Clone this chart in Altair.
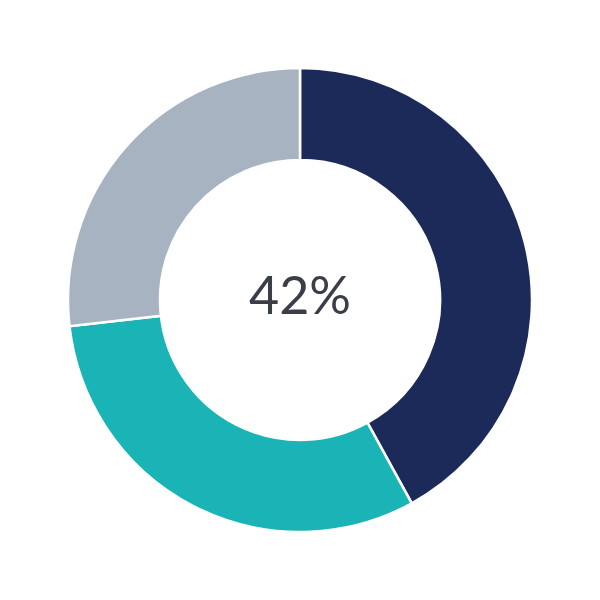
import altair as alt
import pandas as pd

categories = ["A", "B", "C"]
values = [42, 31.2, 26.8]
colors = ["#1c2a5a", "#1ab4b7", "#a8b3c2"]
center_label = "42%"

df = pd.DataFrame({"category": categories, "value": values, "order": [0, 1, 2]})

arc = alt.Chart(df).mark_arc(outerRadius=232, innerRadius=140, stroke="white", strokeWidth=2.5).encode(
    theta=alt.Theta("value:Q", stack=True),
    order=alt.Order("order:Q"),
    color=alt.Color("category:N", scale=alt.Scale(domain=categories, range=colors), legend=None),
)

text = alt.Chart(pd.DataFrame({"t": [center_label]})).mark_text(
    fontSize=52, font="Lato", fontWeight="normal", color="#3a3f47", baseline="middle", align="center"
).encode(text="t:N", x=alt.value(292), y=alt.value(290))

chart = alt.layer(arc, text).properties(
    width=584, height=584, autosize=alt.AutoSizeParams(type="none"), padding=0
).configure_view(stroke=None)

chart.save("out.html", embed_options={"renderer": "svg", "actions": False})
